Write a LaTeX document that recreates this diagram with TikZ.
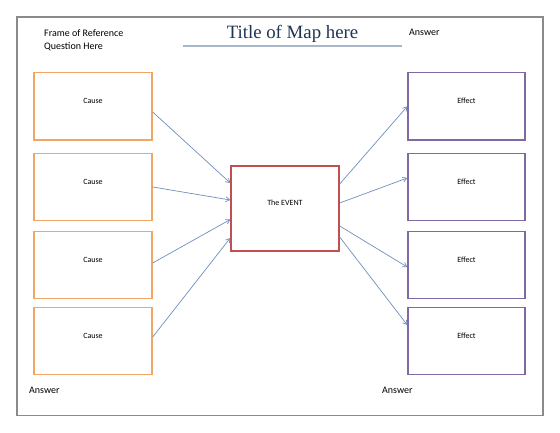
\documentclass[tikz,border=0pt]{standalone}
\usepackage{fontspec}
\setmainfont{Carlito}
\newfontfamily\titlefont{Liberation Serif}
\usetikzlibrary{arrows.meta,calc}
\definecolor{frameg}{HTML}{8A8A8A}
\definecolor{causeor}{HTML}{F2A665}
\definecolor{effpur}{HTML}{7E68A6}
\definecolor{evred}{HTML}{C0504D}
\definecolor{arrblue}{HTML}{6F8FC0}
\definecolor{titleblue}{HTML}{1F3552}
\definecolor{ruleblue}{HTML}{A9B8C9}
\tikzset{
  causebox/.style={draw=causeor,line width=1.4pt,minimum width=118pt,minimum height=67.5pt,inner sep=0pt},
  effbox/.style={draw=effpur,line width=1.4pt,minimum width=117pt,minimum height=67.5pt,inner sep=0pt},
  evbox/.style={draw=evred,line width=1.4pt,minimum width=108pt,minimum height=85pt,inner sep=0pt},
  boxtext/.style={font=\fontsize{8}{9.6}\selectfont,anchor=base,inner sep=0pt},
  labtext/.style={font=\fontsize{10}{12}\selectfont,anchor=base west,inner sep=0pt},
  conn/.style={draw=arrblue,line width=0.7pt,-{Straight Barb[length=4pt,width=5pt]}}
}
\begin{document}
\begin{tikzpicture}[x=1pt,y=-1pt]
\useasboundingbox (0,0) rectangle (560,433);
\fill[white] (0,0) rectangle (560,433);
\draw[frameg,line width=1.3pt] (17,17) rectangle (543,415.5);
% header
\node[labtext] (for1) at (44,36.5) {Frame of Reference};
\node[labtext] (for2) at (44,49.5) {Question Here};
\node[anchor=base,inner sep=0pt,font=\titlefont\fontsize{18.8}{22}\selectfont,text=titleblue] (title) at (292.5,39) {Title of Map here};
\draw[ruleblue,line width=1.2pt] (183,46) -- (402,46);
\node[labtext] (ans1) at (409,36) {Answer};
\node[labtext] (ans2) at (29,393) {Answer};
\node[labtext] (ans3) at (382,393) {Answer};
% cause boxes
\node[causebox] (c1) at (93,106.4) {};
\node[causebox] (c2) at (93,187) {};
\node[causebox] (c3) at (93,265) {};
\node[causebox] (c4) at (93,341) {};
\foreach \i in {1,...,4}{
  \node[boxtext] (ct\i) at ($(c\i.north)+(0,31.5)$) {Cause};
}
% effect boxes
\node[effbox] (e1) at (466.5,106.4) {};
\node[effbox] (e2) at (466.5,187) {};
\node[effbox] (e3) at (466.5,265) {};
\node[effbox] (e4) at (466.5,341) {};
\foreach \i in {1,...,4}{
  \node[boxtext] (et\i) at ($(e\i.north)+(0,32)$) {Effect};
}
% event
\node[evbox] (ev) at (285,208.5) {};
\node[boxtext] (evt) at ($(ev.north)+(0,40.7)$) {The EVENT};
% connectors in
\draw[conn] ([yshift=-5.6pt]c1.east) -- ([yshift=25.5pt]ev.west);
\draw[conn] (c2.east) -- ([yshift=8.5pt]ev.west);
\draw[conn] ([yshift=2pt]c3.east) -- ([yshift=-11pt]ev.west);
\draw[conn] ([yshift=4pt]c4.east) -- ([yshift=-29.5pt]ev.west);
% connectors out
\draw[conn] ([yshift=24.5pt]ev.east) -- (e1.west);
\draw[conn] ([yshift=5.5pt]ev.east) -- ([yshift=9pt]e2.west);
\draw[conn] ([yshift=-17.5pt]ev.east) -- ([yshift=-2pt]e3.west);
\draw[conn] ([yshift=-28.5pt]ev.east) -- ([yshift=16pt]e4.west);
\end{tikzpicture}
\end{document}
